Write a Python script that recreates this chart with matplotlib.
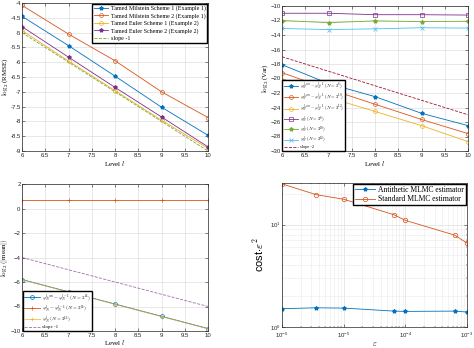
import numpy as np
import matplotlib
matplotlib.use("Agg")
import matplotlib.pyplot as plt
from matplotlib.ticker import LogLocator, NullFormatter

plt.rcParams['mathtext.fontset'] = 'cm'
plt.rcParams['font.family'] = 'Liberation Sans'

# MATLAB default line colours
C = [(0, 0.447, 0.741), (0.85, 0.325, 0.098), (0.929, 0.694, 0.125),
     (0.494, 0.184, 0.556), (0.466, 0.674, 0.188), (0.301, 0.745, 0.933),
     (0.635, 0.078, 0.184)]

levels = [6, 7, 8, 9, 10]

# log2(RMSE)
rmse_mil1 = [-4.45, -5.44, -6.47, -7.52, -8.47]
rmse_mil2 = [-4.08, -5.05, -5.95, -7.00, -7.87]
rmse_eul1 = [-4.93, -5.96, -6.96, -7.96, -8.91]
rmse_eul2 = [-4.80, -5.83, -6.85, -7.85, -8.86]
rmse_ref = [-5, -6, -7, -8, -9]

# log2(Var)
var_diff8 = [-18.1, -20.7, -22.5, -24.8, -26.5]
var_diff10 = [-19.2, -21.45, -23.55, -25.65, -27.6]
var_diff12 = [-20.2, -22.6, -24.55, -26.5, -28.7]
var_phi8 = [-11.0, -11.0, -11.2, -11.2, -11.25]
var_phi10 = [-12.0, -12.3, -12.05, -12.15, -12.1]
var_phi12 = [-13.1, -13.25, -13.15, -13.0, -13.05]
var_ref = [-17, -19, -21, -23, -25]

# log2(|mean|)
mean_anti = [-5.8, -6.8, -7.8, -8.8, -9.8]
mean_diff = [0.7, 0.7, 0.7, 0.7, 0.7]
mean_phi = [-5.82, -6.82, -7.82, -8.82, -9.82]
mean_ref = [-4, -5, -6, -7, -8]

# cost * eps^2
eps = [1e-6, 3.6e-6, 1e-5, 6.5e-5, 1e-4, 6.3e-4, 1e-3]
cost_anti = [1.51, 1.54, 1.53, 1.43, 1.42, 1.43, 1.40]
cost_std = [25.0, 19.6, 17.7, 12.5, 11.0, 7.9, 6.6]

W, H = 474, 348
fig = plt.figure(figsize=(W / 100, H / 100), dpi=100)


def make_ax(l, r, t, b):
    return fig.add_axes([l / W, 1 - b / H, (r - l) / W, (b - t) / H])


def style(ax):
    ax.grid(True, which='major', color=(0.87, 0.87, 0.87), linewidth=0.5)
    ax.set_axisbelow(True)
    ax.tick_params(direction='in', labelsize=4.3, length=2, width=0.4,
                   colors=(0.15, 0.15, 0.15), top=True, right=True, pad=1.5)
    ax.tick_params(which='minor', direction='in', length=1, width=0.3,
                   top=True, right=True)
    ax.tick_params(axis='y', pad=1)
    for s in ax.spines.values():
        s.set_linewidth(0.5)
        s.set_color((0.15, 0.15, 0.15))


serif = 'Liberation Serif'
lab = dict(family=serif, fontsize=5)
leg = dict(prop={'family': serif, 'size': 4.3}, fancybox=False,
           edgecolor='k', framealpha=1, borderpad=0.3, labelspacing=0.3,
           handlelength=2.4, handletextpad=0.4, borderaxespad=0.1)
# tighter box for the legends with math labels
mleg = dict(leg)
mleg['prop'] = {'family': serif, 'size': 3.2}
mleg['labelspacing'] = 0.0
mleg['handlelength'] = 3.2
mleg['borderpad'] = 0.25
lw, ms = 0.6, 2.8
levticks = np.arange(6, 10.01, 0.5)
levlabels = ['6', '6.5', '7', '7.5', '8', '8.5', '9', '9.5', '10']

# top left
ax1 = make_ax(22, 208, 3, 151)
ax1.plot(levels, rmse_mil1, '*-', color=C[0], lw=lw, ms=ms, label='Tamed Milstein Scheme 1 (Example 1)')
ax1.plot(levels, rmse_mil2, 'o-', color=C[1], lw=lw, ms=ms, mfc='none', mew=0.5, label='Tamed Milstein Scheme 2 (Example 1)')
ax1.plot(levels, rmse_eul1, 'o-', color=C[2], lw=lw, ms=ms, mfc='none', mew=0.5, label='Tamed Euler Scheme 1 (Example 2)')
ax1.plot(levels, rmse_eul2, '*-', color=C[3], lw=lw, ms=ms, label='Tamed Euler Scheme 2 (Example 2)')
ax1.plot(levels, rmse_ref, '--', color=C[4], lw=lw, label='slope -1')
ax1.set_xlim(6, 10)
ax1.set_ylim(-9, -4)
ax1.set_xticks(levticks)
ax1.set_xticklabels(levlabels)
ax1.set_yticks(np.arange(-9, -3.99, 0.5))
ax1.set_yticklabels(['-9', '-8.5', '-8', '-7.5', '-7', '-6.5', '-6', '-5.5', '-5', '-4.5', '-4'])
ax1.set_xlabel('Level $l$', labelpad=1, **lab)
ax1.set_ylabel(r'$\log_2$(RMSE)', labelpad=0.5, **lab)
ax1.legend(loc='upper right', **leg)
style(ax1)

# top right
ax2 = make_ax(282, 468, 6, 151)
ax2.plot(levels, var_diff8, '*-', color=C[0], lw=lw, ms=ms, label=r'$\varphi_N^{l,an}-\varphi_N^{l-1}$ $(N=2^8)$')
ax2.plot(levels, var_diff10, 'o-', color=C[1], lw=lw, ms=ms, mfc='none', mew=0.5, label=r'$\varphi_N^{l,an}-\varphi_N^{l-1}$ $(N=2^{10})$')
ax2.plot(levels, var_diff12, 'o-', color=C[2], lw=lw, ms=ms, mfc='none', mew=0.5, label=r'$\varphi_N^{l,an}-\varphi_N^{l-1}$ $(N=2^{12})$')
ax2.plot(levels, var_phi8, 's-', color=C[3], lw=lw, ms=2.5, mfc='none', mew=0.5, label=r'$\varphi_N^{l}$ $(N=2^8)$')
ax2.plot(levels, var_phi10, '*-', color=C[4], lw=lw, ms=ms, label=r'$\varphi_N^{l}$ $(N=2^{10})$')
ax2.plot(levels, var_phi12, 'x-', color=C[5], lw=lw, ms=2.3, mew=0.5, label=r'$\varphi_N^{l}$ $(N=2^{12})$')
ax2.plot(levels, var_ref, '--', color=C[6], lw=lw, label='slope -2')
ax2.set_xlim(6, 10)
ax2.set_ylim(-30, -10)
ax2.set_xticks(levticks)
ax2.set_xticklabels(levlabels)
ax2.set_yticks(np.arange(-30, -9, 2))
ax2.set_xlabel('Level $l$', labelpad=1, **lab)
ax2.set_ylabel(r'$\log_2$(Var)', labelpad=0.5, **lab)
ax2.legend(loc='lower left', **mleg)
style(ax2)

# bottom left
ax3 = make_ax(22, 208, 184, 331)
ax3.plot(levels, mean_anti, 'o-', color=C[0], lw=lw, ms=ms, mfc='none', mew=0.5, label=r'$\varphi_N^{l,an}-\varphi_N^{l-1}$ $(N=2^{11})$')
ax3.plot(levels, mean_diff, '+-', color=C[1], lw=lw, ms=ms, mew=0.5, label=r'$\varphi_N^{l}-\varphi_N^{l-1}$ $(N=2^{11})$')
ax3.plot(levels, mean_phi, '+-', color=C[2], lw=lw, ms=ms, mew=0.5, alpha=0.8, label=r'$\varphi_N^{l}$ $(N=2^{11})$')
ax3.plot(levels, mean_ref, '--', color=C[3], lw=lw, alpha=0.7, label='slope -1')
ax3.set_xlim(6, 10)
ax3.set_ylim(-10, 2)
ax3.set_xticks(levticks)
ax3.set_xticklabels(levlabels)
ax3.set_yticks(np.arange(-10, 2.1, 2))
ax3.set_xlabel('Level $l$', labelpad=0, **lab)
ax3.set_ylabel(r'$\log_2(|$mean$|)$', labelpad=0.5, **lab)
bl = dict(mleg)
bl['prop'] = {'family': serif, 'size': 3.6}
ax3.legend(loc='lower left', **bl)
style(ax3)

# bottom right
ax4 = make_ax(282, 467, 183, 327)
ax4.loglog(eps, cost_anti, '*-', color=C[0], lw=lw, ms=ms, label='Antithetic MLMC estimator')
ax4.loglog(eps, cost_std, 'o-', color=C[1], lw=lw, ms=3.2, mfc='none', mew=0.5, label='Standard MLMC estimator')
ax4.set_xlim(1e-6, 1e-3)
ax4.set_ylim(1, 25.5)
ax4.xaxis.set_minor_locator(LogLocator(subs=np.arange(2, 10)))
ax4.xaxis.set_minor_formatter(NullFormatter())
ax4.yaxis.set_minor_formatter(NullFormatter())
ax4.grid(True, which='minor', color=(0.92, 0.92, 0.92), linewidth=0.4)
ax4.set_xlabel(r'$\varepsilon$', labelpad=0, fontsize=6)
ax4.set_ylabel(r'cost$\cdot\varepsilon^2$', labelpad=3, fontsize=8)
lg = dict(leg)
lg['prop'] = {'family': serif, 'size': 5.5}
lg['handlelength'] = 2.6
lg['labelspacing'] = 0.15
ax4.legend(loc='upper right', **lg)
style(ax4)
ax4.tick_params(axis='x', pad=3)

fig.savefig('out.png', dpi=100)
